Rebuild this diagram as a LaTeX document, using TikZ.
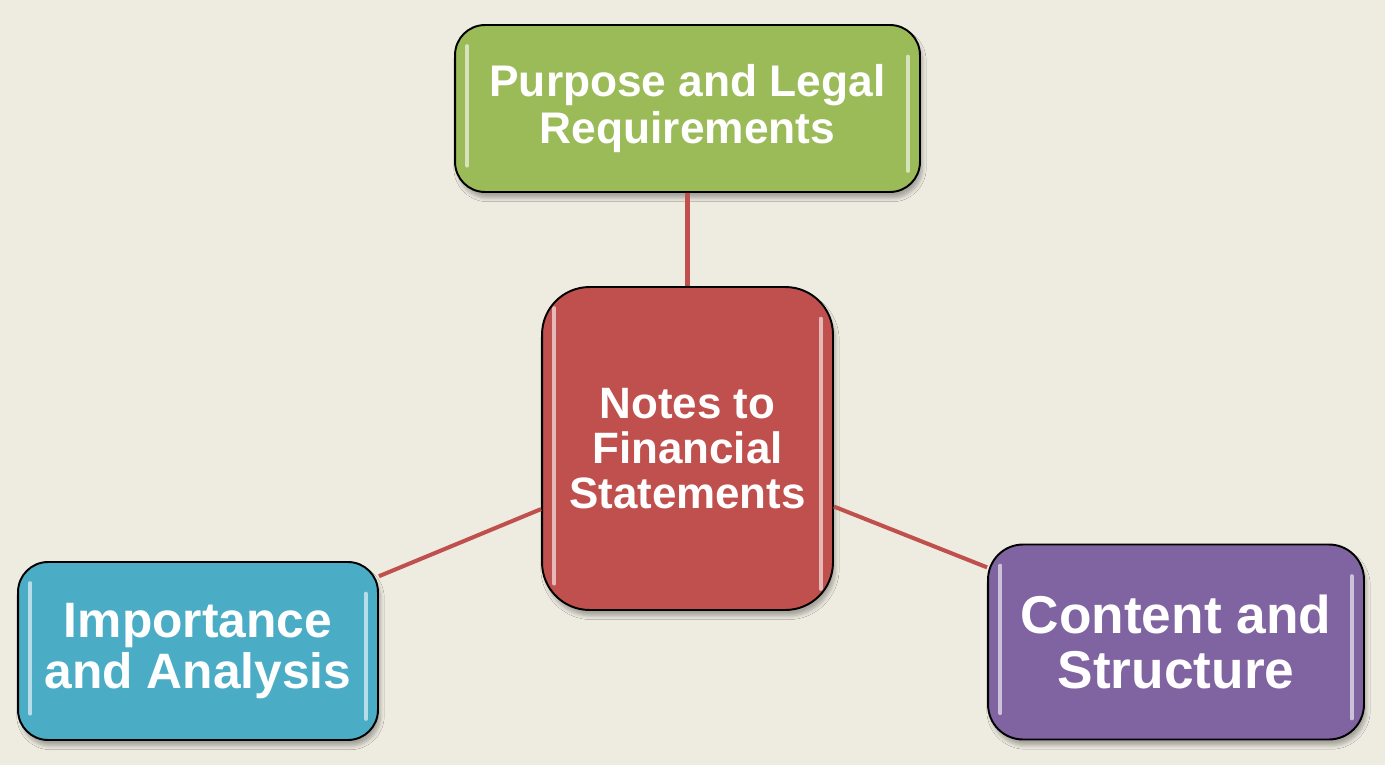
\documentclass[tikz,border=0pt]{standalone}
\usepackage{fontspec}
\setmainfont{Liberation Sans}
\usetikzlibrary{shadows.blur}
\definecolor{bgbeige}{HTML}{EEECE1}
\definecolor{purposegreen}{HTML}{9BBB59}
\definecolor{notesred}{HTML}{C0504D}
\definecolor{analysisblue}{HTML}{4BACC6}
\definecolor{contentpurple}{HTML}{8064A2}
\begin{document}
\begin{tikzpicture}[x=0.02cm, y=-0.02cm,
  topic/.style={draw=black, line width=1.1pt, text=white, align=center, inner sep=0pt,
    blur shadow={shadow xshift=0.5mm, shadow yshift=-1.2mm, shadow opacity=30, shadow blur steps=6},
    path picture={
      \draw[white, opacity=0.6, line width=2.2pt, line cap=round]
        ([xshift=7pt,yshift=-12pt]path picture bounding box.north west) -- ([xshift=7pt,yshift=15pt]path picture bounding box.south west)
        ([xshift=-7pt,yshift=-18pt]path picture bounding box.north east) -- ([xshift=-7pt,yshift=12pt]path picture bounding box.south east);
    }},
  link/.style={draw=notesred, line width=2.3pt}]
% background
\useasboundingbox (0,0) rectangle (1392,770);
\fill[white] (0,0) rectangle (1392,770);
\fill[bgbeige] (0,0) rectangle (1385,765);
% boxes
\node[topic, fill=purposegreen, rounded corners=0.6cm, minimum width=9.3cm, minimum height=3.34cm,
  font=\bfseries\fontsize{25.2}{27.2}\selectfont] (purpose) at (687.5,108.5) {Purpose and Legal\\Requirements};
\node[topic, fill=notesred, rounded corners=0.95cm, minimum width=5.82cm, minimum height=6.46cm,
  font=\bfseries\fontsize{25}{25.8}\selectfont] (notes) at (687.5,448.5) {Notes to\\Financial\\Statements};
\node[topic, fill=analysisblue, rounded corners=0.6cm, minimum width=7.2cm, minimum height=3.56cm,
  font=\bfseries\fontsize{28.3}{28.9}\selectfont] (analysis) at (198,651) {Importance\\and Analysis};
\node[topic, fill=contentpurple, rounded corners=0.7cm, minimum width=7.52cm, minimum height=3.9cm,
  font=\bfseries\fontsize{30.3}{31.7}\selectfont] (content) at (1176,642) {Content and\\Structure};
% links
\draw[link] (notes) -- (purpose);
\draw[link] (notes) -- (analysis);
\draw[link] (notes) -- (content);
\end{tikzpicture}
\end{document}
